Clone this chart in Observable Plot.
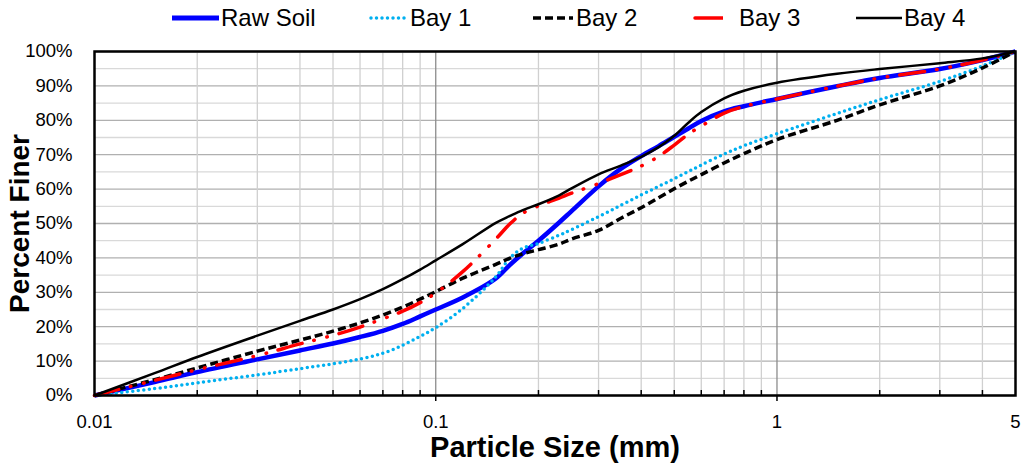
<!DOCTYPE html>
<html>
<head>
<meta charset="utf-8">
<script src="https://cdn.jsdelivr.net/npm/d3@7"></script>
<script src="https://cdn.jsdelivr.net/npm/@observablehq/plot@0.6"></script>
<style>
  html, body { margin: 0; padding: 0; background: #fff; }
  #wrap { width: 1024px; height: 468px; position: relative; font-family: "Liberation Sans", Arial, sans-serif; }
  #legend { position: relative; width: 1024px; height: 40px; }
  .item { position: absolute; top: 0; height: 36px; display: flex; align-items: center; font-size: 24px; color: #000; white-space: nowrap; }
  .item svg { display: block; }
</style>
</head>
<body>
<div id="wrap">
  <div id="legend"></div>
  <div id="chart"></div>
</div>
<script>
// ---- data ----
const sizes = [0.01, 0.015, 0.02, 0.03, 0.04, 0.05, 0.06, 0.07, 0.08, 0.09, 0.1, 0.12, 0.15, 0.165, 0.18, 0.2, 0.23, 0.25, 0.3, 0.35, 0.4, 0.45, 0.5, 0.55, 0.6, 0.7, 0.8, 1, 1.5, 2, 3, 4, 5];

const rawSoil = [0, 3.9, 6.8, 10.5, 13.1, 15.1, 17, 18.8, 20.8, 23, 25, 28.5, 34, 38, 41.3, 45, 50.3, 53.6, 60.8, 66, 69.6, 72.5, 75.2, 77.6, 79.8, 82.6, 84.1, 86.2, 89.9, 92.3, 94.9, 97.5, 100];
const bay1 = [0, 2, 3.7, 6, 7.8, 9.2, 10.6, 12.3, 14.6, 17.2, 19.7, 25.3, 34.5, 40, 42.8, 44.2, 46.6, 48.2, 52, 55.4, 58.3, 60.8, 63, 65.1, 67, 70.2, 72.6, 76.1, 82, 86, 91.3, 95.8, 100];
const bay2 = [0, 4.6, 8, 12.9, 16.1, 18.7, 21.1, 23.4, 25.7, 28, 30.2, 34.1, 38.1, 39.9, 41.2, 42.4, 44, 45.5, 48, 51.6, 54.6, 57.5, 60.1, 62.3, 64.2, 67.6, 70.3, 74.4, 80, 84.5, 90, 95.2, 100];
const bay3 = [0, 4.4, 7.5, 11.6, 15, 17.5, 19.9, 22.3, 24.5, 27, 29.8, 36, 45.5, 49.9, 53, 55.1, 57.4, 58.8, 61.6, 64.3, 66.7, 69.5, 72.8, 76, 78.3, 82.1, 84, 86.2, 89.9, 92.3, 94.9, 97.5, 100];
const bay4 = [0, 6.5, 11.2, 17.4, 21.7, 25, 28, 30.9, 33.8, 36.6, 39.3, 44, 50.2, 52.2, 53.9, 55.6, 58.2, 60.2, 64.3, 66.9, 69.4, 72.2, 75.5, 79.3, 82.4, 86.4, 88.6, 90.9, 93.5, 94.9, 96.6, 98, 100];

const seriesNames = ["Raw Soil", "Bay 1", "Bay 2", "Bay 3", "Bay 4"];
const seriesValues = [rawSoil, bay1, bay2, bay3, bay4];

const yTicks = [0, 10, 20, 30, 40, 50, 60, 70, 80, 90, 100];
const yMinorTicks = [5, 15, 25, 35, 45, 55, 65, 75, 85, 95];
const xTickLabels = [0.01, 0.1, 1, 5];
const xMajorGrid = [0.1, 1];
const xMinorGrid = [0.02, 0.03, 0.04, 0.05, 0.06, 0.07, 0.08, 0.09, 0.2, 0.3, 0.4, 0.5, 0.6, 0.7, 0.8, 0.9, 2, 3, 4];

// ---- styles ----
const styles = {
  "Raw Soil": {stroke: "#0000ff", strokeWidth: 4.5, strokeDasharray: null, strokeLinecap: "butt"},
  "Bay 1":    {stroke: "#00b0f0", strokeWidth: 3.5, strokeDasharray: "0,5.5", strokeLinecap: "round"},
  "Bay 2":    {stroke: "#000000", strokeWidth: 3.5, strokeDasharray: "8,4", strokeLinecap: "butt"},
  "Bay 3":    {stroke: "#ff0000", strokeWidth: 3.5, strokeDasharray: "25,12,0.5,13,0.5,12", strokeLinecap: "round"},
  "Bay 4":    {stroke: "#000000", strokeWidth: 2.5, strokeDasharray: null, strokeLinecap: "butt"}
};

const rows = seriesNames.map((name, i) => sizes.map((s, j) => ({size: s, pct: seriesValues[i][j], series: name})));

const lineMarks = rows.map((data, i) => {
  const st = styles[seriesNames[i]];
  const o = {x: "size", y: "pct", curve: "catmull-rom", stroke: st.stroke, strokeWidth: st.strokeWidth, strokeLinecap: st.strokeLinecap, strokeLinejoin: "round"};
  if (st.strokeDasharray) o.strokeDasharray = st.strokeDasharray;
  return Plot.line(data, o);
});

const chart = Plot.plot({
  width: 1024,
  height: 428,
  marginLeft: 94,
  marginRight: 9,
  marginTop: 11,
  marginBottom: 73,
  style: {fontFamily: "'Liberation Sans', Arial, sans-serif", background: "#fff", color: "#000"},
  x: {type: "log", domain: [0.01, 5]},
  y: {domain: [0, 100]},
  marks: [
    Plot.ruleY(yMinorTicks, {stroke: "#d9d9d9", strokeWidth: 1.3}),
    Plot.ruleY(yTicks, {stroke: "#b0b0b0", strokeWidth: 1.3}),
    Plot.ruleX(xMinorGrid, {stroke: "#d0d0d0", strokeWidth: 1.3}),
    Plot.ruleX(xMajorGrid, {stroke: "#8c8c8c", strokeWidth: 1.3}),
    ...lineMarks,
    Plot.frame({stroke: "#000", strokeWidth: 2.5}),
    Plot.axisY(yTicks, {tickSize: 0, tickPadding: 22, tickFormat: d => d + "%", fontSize: 18.5, label: null}),
    Plot.axisX(xTickLabels, {tickSize: 0, tickPadding: 19, tickFormat: d => String(d), fontSize: 18.5, label: null}),
    Plot.axisX(xMinorGrid, {tickSize: 5, dy: -5, text: null, label: null, strokeWidth: 1.5}),
    Plot.axisX(xMajorGrid, {tickSize: 6, text: null, label: null, strokeWidth: 1.5}),
    Plot.text(["Percent Finer"], {frameAnchor: "left", rotate: -90, dx: -74, textAnchor: "middle", lineAnchor: "middle", fontWeight: "bold", fontSize: 28, fill: "#000"}),
    Plot.text(["Particle Size (mm)"], {frameAnchor: "bottom", dy: 52, textAnchor: "middle", lineAnchor: "middle", fontWeight: "bold", fontSize: 29, fill: "#000"})
  ]
});
document.getElementById("chart").appendChild(chart);

// ---- legend (HTML, above the svg) ----
const legendPos = {"Raw Soil": [172, 47, 221], "Bay 1": [369, 40, 410], "Bay 2": [533, 40, 576], "Bay 3": [693, 30, 739], "Bay 4": [856, 46, 904]};
const legend = document.getElementById("legend");
seriesNames.forEach(name => {
  const st = styles[name];
  const [sx, sw, tx] = legendPos[name];
  const sw1 = document.createElement("div");
  sw1.className = "item";
  sw1.style.left = sx + "px";
  const dash = name === "Bay 3" ? "" : (st.strokeDasharray ? `stroke-dasharray="${st.strokeDasharray}"` : "");
  sw1.innerHTML = `<svg width="${sw}" height="10"><line x1="${st.strokeLinecap === "round" ? 2 : 0}" y1="5" x2="${sw}" y2="5" stroke="${st.stroke}" stroke-width="${name === "Raw Soil" ? 5 : st.strokeWidth}" stroke-linecap="${st.strokeLinecap}" ${dash}/></svg>`;
  legend.appendChild(sw1);
  const t = document.createElement("div");
  t.className = "item";
  t.style.left = tx + "px";
  t.textContent = name;
  legend.appendChild(t);
});
</script>
</body>
</html>
